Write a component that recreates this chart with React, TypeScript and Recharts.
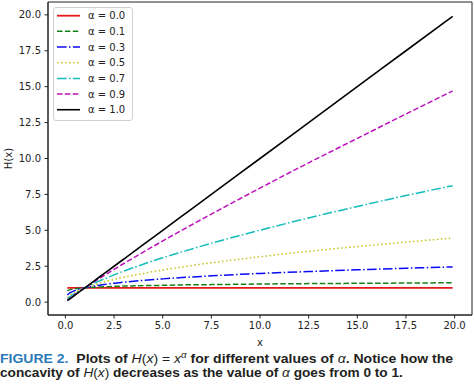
import React, { useLayoutEffect, useRef, useState } from 'react';
import { LineChart, Line, XAxis, YAxis, Legend, ReferenceArea } from 'recharts';

const xValues = [0.1, 0.25, 0.5, 0.75, 1, 1.5, 2, 2.5, 3, 4, 5, 6, 7.5, 10, 12.5, 15, 17.5, 19.9];
const hAlpha00 = [1, 1, 1, 1, 1, 1, 1, 1, 1, 1, 1, 1, 1, 1, 1, 1, 1, 1];
const hAlpha01 = [0.79, 0.87, 0.93, 0.97, 1, 1.04, 1.07, 1.1, 1.12, 1.15, 1.17, 1.2, 1.22, 1.26, 1.29, 1.31, 1.33, 1.35];
const hAlpha03 = [0.5, 0.66, 0.81, 0.92, 1, 1.13, 1.23, 1.32, 1.39, 1.52, 1.62, 1.71, 1.83, 2.0, 2.13, 2.25, 2.36, 2.45];
const hAlpha05 = [0.32, 0.5, 0.71, 0.87, 1, 1.22, 1.41, 1.58, 1.73, 2.0, 2.24, 2.45, 2.74, 3.16, 3.54, 3.87, 4.18, 4.46];
const hAlpha07 = [0.2, 0.38, 0.62, 0.82, 1, 1.33, 1.62, 1.9, 2.16, 2.64, 3.09, 3.5, 4.1, 5.01, 5.86, 6.66, 7.42, 8.11];
const hAlpha09 = [0.13, 0.29, 0.54, 0.77, 1, 1.44, 1.87, 2.28, 2.69, 3.48, 4.26, 5.02, 6.13, 7.94, 9.7, 11.4, 13.1, 14.7];
const hAlpha10 = [0.1, 0.25, 0.5, 0.75, 1, 1.5, 2, 2.5, 3, 4, 5, 6, 7.5, 10, 12.5, 15, 17.5, 19.9];

const xTicks = [0, 2.5, 5, 7.5, 10, 12.5, 15, 17.5, 20];
const yTicks = [0, 2.5, 5, 7.5, 10, 12.5, 15, 17.5, 20];

const series = [
  { key: 'a00', name: 'α = 0.0', values: hAlpha00, color: '#e41a1a', dash: undefined, width: 1.8 },
  { key: 'a01', name: 'α = 0.1', values: hAlpha01, color: '#158015', dash: '5.5 2.4', width: 1.5 },
  { key: 'a03', name: 'α = 0.3', values: hAlpha03, color: '#0a0af5', dash: '9.6 2.4 1.5 2.4', width: 1.5 },
  { key: 'a05', name: 'α = 0.5', values: hAlpha05, color: '#c4c41a', dash: '1.5 2.5', width: 1.5 },
  { key: 'a07', name: 'α = 0.7', values: hAlpha07, color: '#14bcbc', dash: '9.6 2.4 1.5 2.4', width: 1.5 },
  { key: 'a09', name: 'α = 0.9', values: hAlpha09, color: '#bb10bb', dash: '5.5 2.4', width: 1.5 },
  { key: 'a10', name: 'α = 1.0', values: hAlpha10, color: '#000000', dash: undefined, width: 1.6 },
];

const data = xValues.map((x, i) => {
  const row: Record<string, number> = { x };
  series.forEach((s) => {
    row[s.key] = s.values[i];
  });
  return row;
});

const DOMAIN: [number, number] = [-0.895, 20.895];
const FONT = '"DejaVu Sans", sans-serif';
const AX = '#222';

const LegendBox = () => (
  <svg width={80} height={114} style={{ display: 'block' }}>
    <rect x={0.5} y={0.5} width={79} height={113} rx={2.5} fill="rgba(255,255,255,0.85)" stroke="#d0d0d0" />
    {series.map((s, i) => {
      const y = 8.7 + i * 15.67;
      return (
        <g key={s.key}>
          <line x1={4} x2={27} y1={y} y2={y} stroke={s.color} strokeWidth={s.width} strokeDasharray={s.dash} />
          <text x={35} y={y} dy="0.36em" fontFamily={FONT} fontSize={10} fill="#222">
            {s.name}
          </text>
        </g>
      );
    })}
  </svg>
);

const YLabel = (props: any) => {
  const vb = props.viewBox || { x: 0, y: 0, height: 0 };
  const cx = vb.x + 8;
  const cy = vb.y + vb.height / 2;
  return (
    <text
      x={cx}
      y={cy}
      dy="0.36em"
      textAnchor="middle"
      transform={`rotate(-90 ${cx} ${cy})`}
      fontFamily={FONT}
      fontSize={10}
      fill="#222"
    >
      H(x)
    </text>
  );
};

const FitLine = ({ target, top, children }: { target: number; top: number; children: React.ReactNode }) => {
  const ref = useRef<HTMLDivElement>(null);
  const [scale, setScale] = useState(1);
  useLayoutEffect(() => {
    if (ref.current) {
      const w = ref.current.scrollWidth;
      if (w > 0) setScale(target / w);
    }
  }, [target]);
  return (
    <div
      ref={ref}
      style={{
        position: 'absolute',
        left: 0,
        top,
        whiteSpace: 'nowrap',
        fontFamily: '"Liberation Sans", Arial, sans-serif',
        fontWeight: 700,
        fontSize: 12.2,
        lineHeight: '13.6px',
        color: '#231f20',
        transform: `scaleX(${scale})`,
        transformOrigin: '0 0',
      }}
    >
      {children}
    </div>
  );
};

const it: React.CSSProperties = { fontStyle: 'italic', fontWeight: 400 };
const rm: React.CSSProperties = { fontWeight: 400 };

export default function App() {
  return (
    <div style={{ position: 'absolute', left: 0, top: 0, width: 474, height: 384, background: '#fff' }}>
      <LineChart width={474} height={350} data={data} margin={{ top: 2, right: 2, left: 0, bottom: 4 }}>
        <XAxis
          dataKey="x"
          type="number"
          domain={DOMAIN}
          allowDataOverflow
          ticks={xTicks}
          tickFormatter={(v: number) => v.toFixed(1)}
          height={31}
          tickSize={3.5}
          tickMargin={3.5}
          stroke={AX}
          tick={{ fontFamily: FONT, fontSize: 10, fill: '#222' }}
          label={{ value: 'x', position: 'insideBottom', offset: 0, fontFamily: FONT, fontSize: 10, fill: '#222' }}
        />
        <YAxis
          type="number"
          domain={DOMAIN}
          allowDataOverflow
          ticks={yTicks}
          tickFormatter={(v: number) => v.toFixed(1)}
          width={48}
          tickSize={3.5}
          tickMargin={3.5}
          stroke={AX}
          tick={{ fontFamily: FONT, fontSize: 10, fill: '#222' }}
          label={{ content: YLabel }}
        />
        <ReferenceArea
          x1={DOMAIN[0]}
          x2={DOMAIN[1]}
          y1={DOMAIN[0]}
          y2={DOMAIN[1]}
          ifOverflow="visible"
          fill="none"
          fillOpacity={0}
          stroke={AX}
          strokeWidth={1}
          strokeOpacity={1}
        />
        {series.map((s) => (
          <Line
            key={s.key}
            dataKey={s.key}
            name={s.name}
            type="monotone"
            stroke={s.color}
            strokeWidth={s.width}
            strokeDasharray={s.dash}
            dot={false}
            activeDot={false}
            isAnimationActive={false}
          />
        ))}
        <Legend
          layout="vertical"
          align="center"
          verticalAlign="middle"
          content={() => <LegendBox />}
          wrapperStyle={{ position: 'absolute', left: 53, top: 7, width: 80, height: 114 }}
        />
      </LineChart>
      <FitLine target={453} top={352.8}>
        <span style={{ color: '#2a7ab8' }}>FIGURE 2.</span>
        <span>{'\u00a0 Plots of '}</span>
        <span style={it}>H</span>
        <span style={rm}>(</span>
        <span style={it}>x</span>
        <span style={rm}>{') = '}</span>
        <span style={it}>x</span>
        <span style={{ ...it, fontSize: 8.5, position: 'relative', top: -5 }}>α</span>
        <span>{' for different values of '}</span>
        <span style={it}>α</span>
        <span>. Notice how the</span>
      </FitLine>
      <FitLine target={403} top={366.6}>
        <span>{'concavity of '}</span>
        <span style={it}>H</span>
        <span style={rm}>(</span>
        <span style={it}>x</span>
        <span style={rm}>)</span>
        <span>{' decreases as the value of '}</span>
        <span style={it}>α</span>
        <span>{' goes from 0 to 1.'}</span>
      </FitLine>
    </div>
  );
}
